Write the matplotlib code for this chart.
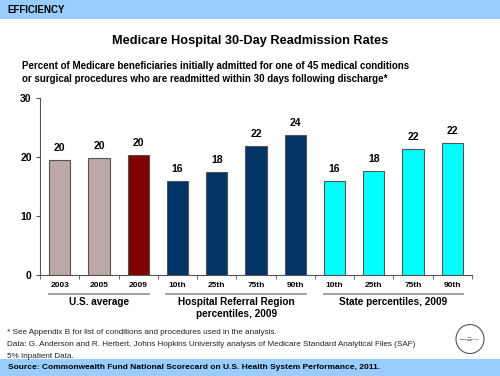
import matplotlib
matplotlib.use("Agg")
import matplotlib.pyplot as plt
from matplotlib.patches import Rectangle, Ellipse
from matplotlib.lines import Line2D
import matplotlib.transforms as mtransforms

plt.rcParams["font.family"] = ["Liberation Sans", "DejaVu Sans"]

categories = ["2003", "2005", "2009", "10th", "25th", "75th", "90th", "10th", "25th", "75th", "90th"]
values = [19.5, 19.8, 20.3, 15.9, 17.5, 21.9, 23.7, 16.0, 17.6, 21.4, 22.4]
value_labels = ["20", "20", "20", "16", "18", "22", "24", "16", "18", "22", "22"]
colors = ["#BBA9A3", "#BBA9A3", "#800000", "#003366", "#003366", "#003366", "#003366",
          "#00FFFF", "#00FFFF", "#00FFFF", "#00FFFF"]
groups = [("U.S. average", 0, 2), ("Hospital Referral Region\npercentiles, 2009", 3, 6),
          ("State percentiles, 2009", 7, 10)]
yticks = [0, 10, 20, 30]

W, H = 500, 376
fig = plt.figure(figsize=(W / 100, H / 100), dpi=100)
fig.patch.set_facecolor("white")

def fy(py):
    return 1 - py / H

# header and footer bands
fig.add_artist(Rectangle((0, fy(19)), 1, 19 / H, transform=fig.transFigure,
                         facecolor="#99CCFF", edgecolor="none", zorder=0))
fig.add_artist(Rectangle((0, 0), 1, 17 / H, transform=fig.transFigure,
                         facecolor="#99CCFF", edgecolor="none", zorder=0))
fig.text(7 / W, fy(10), "EFFICIENCY", fontsize=7.0, fontweight="bold", va="center", ha="left")
fig.text(8 / W, fy(367.5), "Source: Commonwealth Fund National Scorecard on U.S. Health System Performance, 2011.",
         fontsize=6.0, fontweight="bold", va="center", ha="left")

fig.text(250 / W, fy(41), "Medicare Hospital 30-Day Readmission Rates", fontsize=9.2,
         fontweight="bold", ha="center", va="center")
fig.text(22 / W, fy(66), "Percent of Medicare beneficiaries initially admitted for one of 45 medical conditions",
         fontsize=7.0, fontweight="bold", ha="left", va="center")
fig.text(22 / W, fy(79), "or surgical procedures who are readmitted within 30 days following discharge*",
         fontsize=7.0, fontweight="bold", ha="left", va="center")

ax = fig.add_axes([40 / W, fy(275), (472 - 40) / W, (275 - 98) / H])
x = list(range(len(categories)))
ax.bar(x, values, width=0.54, color=colors, edgecolor="#555555", linewidth=0.8, zorder=2)
for xi, v, lab in zip(x, values, value_labels):
    ax.annotate(lab, (xi, v), xytext=(0, 5), textcoords="offset points", ha="center",
                va="bottom", fontsize=7.5, fontweight="bold")
ax.set_xlim(-0.5, 10.5)
ax.set_ylim(0, 30)
ax.set_yticks(yticks)
ax.set_yticklabels([str(t) for t in yticks], fontsize=7.5, fontweight="bold")
ax.set_xticks(x)
ax.set_xticklabels(categories, fontsize=6.0, fontweight="bold")
ax.tick_params(axis="x", length=0, pad=5)
ax.set_xticks([i + 0.5 for i in range(-1, 11)], minor=True)
ax.tick_params(axis="x", which="minor", length=3, color="#555555")
ax.tick_params(axis="y", length=3, color="#555555", pad=3)
for s in ["top", "right"]:
    ax.spines[s].set_visible(False)
ax.spines["left"].set_color("#555555")
ax.spines["bottom"].set_color("#555555")

trans = mtransforms.blended_transform_factory(ax.transData, fig.transFigure)
for name, a, b in groups:
    fig.add_artist(Line2D([a - 0.28, b + 0.28], [fy(294), fy(294)], transform=trans,
                          color="#999999", linewidth=1.3))
    fig.text((a + b) / 2, fy(297), name, transform=trans, ha="center", va="top",
             fontsize=7.2, fontweight="bold", linespacing=1.2)

fig.text(7 / W, fy(333), "* See Appendix B for list of conditions and procedures used in the analysis.",
         fontsize=5.9, ha="left", va="center", color="#222222")
fig.text(7 / W, fy(345), "Data: G. Anderson and R. Herbert, Johns Hopkins University analysis of Medicare Standard Analytical Files (SAF)",
         fontsize=5.9, ha="left", va="center", color="#222222")
fig.text(7 / W, fy(356), "5% Inpatient Data.", fontsize=5.9, ha="left", va="center", color="#222222")

# logo
fig.add_artist(Ellipse((470 / W, fy(339)), 28 / W, 29 / H, transform=fig.transFigure,
                       facecolor="white", edgecolor="#555555", linewidth=0.8))
fig.text(470 / W, fy(339), "THE\nCOMMONWEALTH\nFUND", fontsize=1.6, ha="center", va="center",
         linespacing=1.3)

fig.savefig("out.png", dpi=100)
